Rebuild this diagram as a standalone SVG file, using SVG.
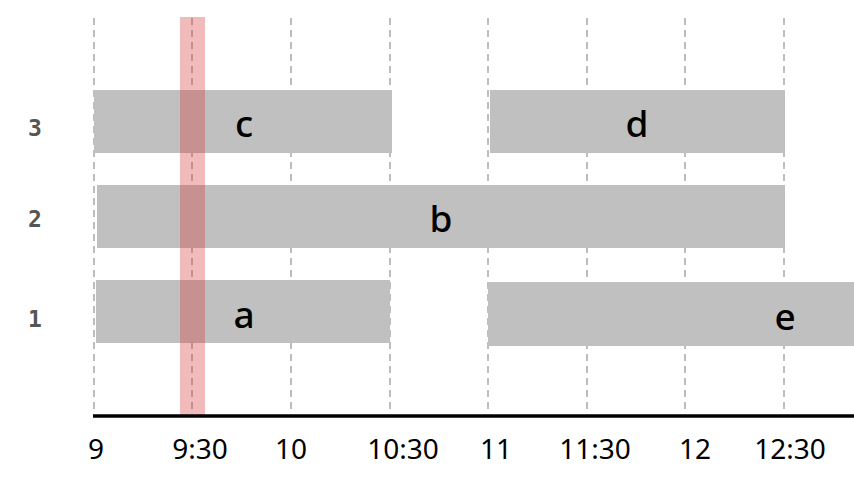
<svg xmlns="http://www.w3.org/2000/svg" width="854" height="483" viewBox="0 0 854 483">
<style>
.grid{stroke:#bdbdbd;stroke-width:2;stroke-dasharray:7 5}
.bar{fill:#c0c0c0}
.lbl{font-family:"Noto Sans",sans-serif;font-size:37px;font-weight:500;fill:#000;text-anchor:middle}
.row{font-family:"DejaVu Sans Mono",monospace;font-size:23px;font-weight:bold;fill:#555;text-anchor:middle}
.tick{font-family:"Noto Sans",sans-serif;font-size:28px;fill:#000;text-anchor:middle}
</style>
<rect width="854" height="483" fill="#fff"/>
<g id="grid">
<line class="grid" x1="94" y1="18" x2="94" y2="414"/>
<line class="grid" x1="192" y1="18" x2="192" y2="414"/>
<line class="grid" x1="291" y1="18" x2="291" y2="414"/>
<line class="grid" x1="390" y1="18" x2="390" y2="414"/>
<line class="grid" x1="488" y1="18" x2="488" y2="414"/>
<line class="grid" x1="587" y1="18" x2="587" y2="414"/>
<line class="grid" x1="685" y1="18" x2="685" y2="414"/>
<line class="grid" x1="784" y1="18" x2="784" y2="414"/>
</g>
<g id="rows">
<text class="row" x="35" y="136">3</text>
<text class="row" x="35" y="227">2</text>
<text class="row" x="35" y="327">1</text>
</g>
<g id="node-c"><rect class="bar" x="94" y="90" width="298" height="63"/><text class="lbl" x="244" y="137">c</text></g>
<g id="node-d"><rect class="bar" x="490" y="90" width="295" height="63"/><text class="lbl" x="637" y="137">d</text></g>
<g id="node-b"><rect class="bar" x="97" y="185" width="688" height="63"/><text class="lbl" x="441" y="232">b</text></g>
<g id="node-a"><rect class="bar" x="96" y="280" width="294" height="63"/><text class="lbl" x="244" y="328">a</text></g>
<g id="node-e"><rect class="bar" x="488" y="282" width="366" height="64"/><text class="lbl" x="785" y="330">e</text></g>
<g id="highlight"><rect x="180" y="17" width="25" height="399" fill="rgb(215,50,50)" fill-opacity="0.33"/></g>
<g id="axis">
<line x1="93" y1="416" x2="854" y2="416" stroke="#000" stroke-width="3.5"/>
<text class="tick" x="96" y="459">9</text>
<text class="tick" x="200" y="459">9:30</text>
<text class="tick" x="291" y="459">10</text>
<text class="tick" x="403" y="459">10:30</text>
<text class="tick" x="496" y="459">11</text>
<text class="tick" x="595" y="459">11:30</text>
<text class="tick" x="695" y="459">12</text>
<text class="tick" x="790" y="459">12:30</text>
</g>
</svg>
